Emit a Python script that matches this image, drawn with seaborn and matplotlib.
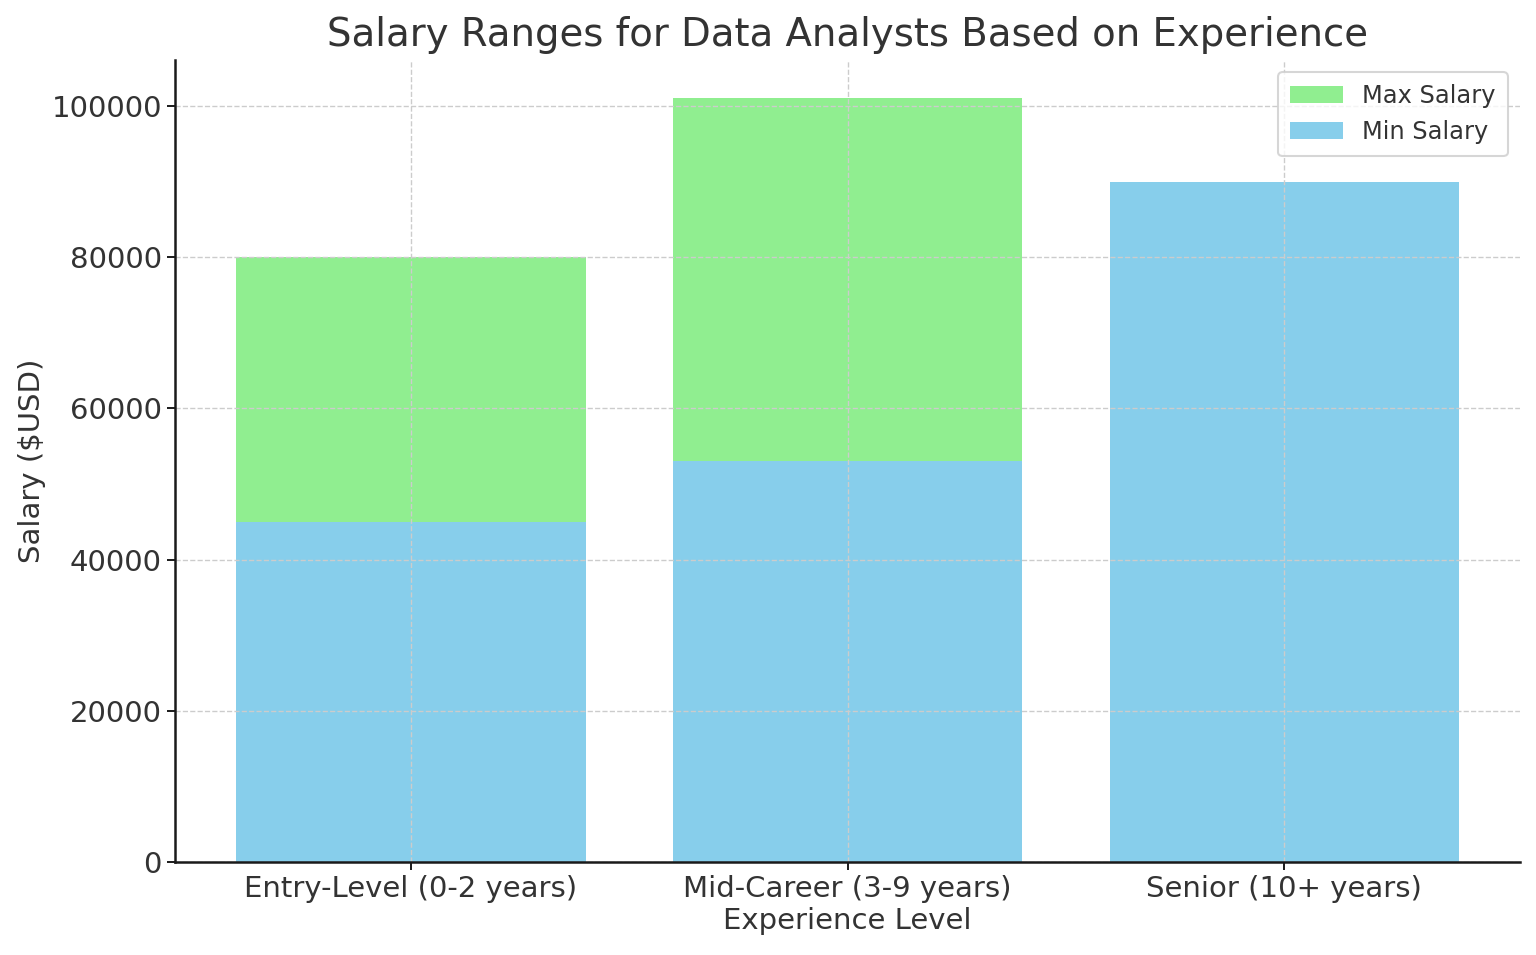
import matplotlib
matplotlib.use('Agg')
import matplotlib.pyplot as plt
import seaborn as sns
import pandas as pd

# values
levels = ['Entry-Level (0-2 years)', 'Mid-Career (3-9 years)', 'Senior (10+ years)']
min_salary = [45000, 53000, 90000]
max_salary = [80000, 101000, 90000]  # senior max is hidden behind the min bar

df = pd.DataFrame({'level': levels, 'min': min_salary, 'max': max_salary})

sns.set_style('ticks')
plt.rcParams['font.family'] = ['DejaVu Sans']
plt.rcParams['axes.axisbelow'] = 'line'  # grid drawn over the bars, like the reference
text_color = '#333333'

fig, ax = plt.subplots(figsize=(15.36, 9.55), dpi=100)
fig.subplots_adjust(left=0.114, right=0.9896, top=0.937, bottom=0.0974)

# max first, then min drawn on top (overlay, not stacked)
sns.barplot(data=df, x='level', y='max', color='lightgreen', saturation=1, width=0.8,
            linewidth=0, label='Max Salary', ax=ax)
sns.barplot(data=df, x='level', y='min', color='skyblue', saturation=1, width=0.8,
            linewidth=0, label='Min Salary', ax=ax)

ax.set_xlim(-0.54, 2.54)
ax.grid(True, linestyle='--', color='#cccccc', linewidth=1.0)
sns.despine(ax=ax)
for side in ['left', 'bottom']:
    ax.spines[side].set_linewidth(1.8)
    ax.spines[side].set_color('#1a1a1a')

ax.set_title('Salary Ranges for Data Analysts Based on Experience', fontsize=27.8, color=text_color, pad=10)
ax.set_xlabel('Experience Level', fontsize=21, color=text_color, labelpad=3)
ax.set_ylabel('Salary ($USD)', fontsize=21, color=text_color)
ax.tick_params(axis='both', labelsize=21, colors='#1a1a1a', length=6, width=1.4)
for lbl in ax.get_xticklabels() + ax.get_yticklabels():
    lbl.set_color(text_color)

leg = ax.legend(loc='upper right', fontsize=17.4, frameon=True, fancybox=True,
                handlelength=2.2, borderpad=0.5)
leg.get_frame().set_edgecolor('#cccccc')
leg.get_frame().set_linewidth(1.5)
for t in leg.get_texts():
    t.set_color(text_color)

fig.savefig('out.png', dpi=100)
